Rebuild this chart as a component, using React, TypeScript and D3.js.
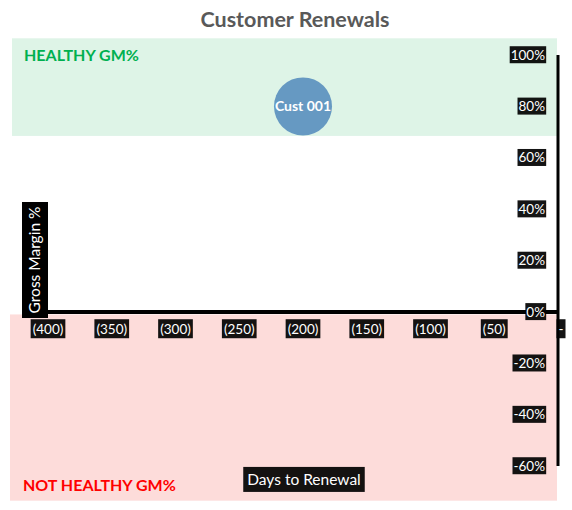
import React, { useRef, useEffect } from "react";
import * as d3 from "d3";

// Bubble data
const customers = ["Cust 001"];
const daysToRenewal = [-200];
const grossMargin = [0.8];
const contractSize = [1];

// Axis ticks
const xTicks = [-400, -350, -300, -250, -200, -150, -100, -50, 0];
const yTicks = [1, 0.8, 0.6, 0.4, 0.2, 0, -0.2, -0.4, -0.6];

// Shaded zones (in gross-margin units)
const healthyZone = [0.685, 1.065];
const notHealthyZone = [-0.735, -0.01];

const App: React.FC = () => {
    const svgRef = useRef<SVGSVGElement | null>(null);

    useEffect(() => {
        if (!svgRef.current) return;
        const width = 572;
        const height = 510;
        const font = "Lato, 'Open Sans', sans-serif";

        const svg = d3.select(svgRef.current);
        svg.selectAll("*").remove();
        svg.attr("width", width).attr("height", height).attr("viewBox", `0 0 ${width} ${height}`)
            .style("font-family", font);

        const x = d3.scaleLinear().domain([-400, 0]).range([48, 558]);
        const y = d3.scaleLinear().domain([-0.6, 1]).range([466, 55]);
        const r = d3.scaleSqrt().domain([0, 1]).range([0, 29]);
        const pct = (d: number) => `${Math.round(d * 100)}%`;

        // background zones
        svg.append("rect")
            .attr("x", 12).attr("width", 545)
            .attr("y", y(healthyZone[1])).attr("height", y(healthyZone[0]) - y(healthyZone[1]))
            .attr("fill", "#def4e7");
        svg.append("rect")
            .attr("x", 10).attr("width", 547)
            .attr("y", y(notHealthyZone[1])).attr("height", y(notHealthyZone[0]) - y(notHealthyZone[1]))
            .attr("fill", "#fddcda");

        // title
        svg.append("text")
            .attr("x", 295).attr("y", 27)
            .attr("text-anchor", "middle")
            .attr("font-size", 21.5).attr("font-weight", "bold")
            .attr("fill", "#595959")
            .text("Customer Renewals");

        // zone labels
        svg.append("text")
            .attr("x", 24).attr("y", 61)
            .attr("font-size", 16).attr("font-weight", "bold")
            .attr("fill", "#00b050")
            .text("HEALTHY GM%");
        svg.append("text")
            .attr("x", 23).attr("y", 491)
            .attr("font-size", 16).attr("font-weight", "bold")
            .attr("fill", "#ff0000")
            .text("NOT HEALTHY GM%");

        // zero line and right axis
        svg.append("line")
            .attr("x1", 22).attr("x2", x(0))
            .attr("y1", y(0)).attr("y2", y(0))
            .attr("stroke", "#000").attr("stroke-width", 4);
        svg.append("line")
            .attr("x1", x(0)).attr("x2", x(0))
            .attr("y1", y(1)).attr("y2", y(-0.6))
            .attr("stroke", "#000").attr("stroke-width", 3);

        // helper: text with a dark box behind it
        const boxedText = (g: any, pad: number, h: number) => {
            g.each(function (this: SVGGElement) {
                const sel = d3.select(this);
                const t = sel.select<SVGTextElement>("text");
                const bb = t.node()!.getBBox();
                sel.insert("rect", "text")
                    .attr("x", bb.x - pad).attr("width", bb.width + pad * 2)
                    .attr("y", bb.y + bb.height / 2 - h / 2).attr("height", h)
                    .attr("fill", "#000").attr("fill-opacity", 0.92);
            });
        };

        // y tick labels
        const yLab = svg.append("g").selectAll("g")
            .data(yTicks)
            .join("g");
        yLab.append("text")
            .attr("x", 545).attr("y", d => y(d))
            .attr("dy", "0.35em")
            .attr("text-anchor", "end")
            .attr("font-size", 13.5)
            .attr("fill", "#fff")
            .text(pct);
        boxedText(yLab, 1, 17);

        // x tick labels
        const xLab = svg.append("g").selectAll("g")
            .data(xTicks)
            .join("g");
        xLab.append("text")
            .attr("x", d => d === 0 ? x(d) + 3 : x(d)).attr("y", 329)
            .attr("dy", "0.35em")
            .attr("text-anchor", "middle")
            .attr("font-size", 13.5)
            .attr("fill", "#fff")
            .text(d => d === 0 ? "-" : `(${-d})`);
        boxedText(xLab, 2, 19);

        // axis titles
        const yTitle = svg.append("g")
            .attr("transform", "translate(35,260) rotate(-90)");
        yTitle.append("text")
            .attr("text-anchor", "middle").attr("dy", "0.35em")
            .attr("font-size", 15.5).attr("fill", "#fff")
            .text("Gross Margin %");
        yTitle.insert("rect", "text")
            .attr("x", -58).attr("width", 116)
            .attr("y", -13).attr("height", 26)
            .attr("fill", "#000");

        const xTitle = svg.append("g");
        xTitle.append("text")
            .attr("x", 304).attr("y", 480)
            .attr("text-anchor", "middle").attr("dy", "0.35em")
            .attr("font-size", 15.5).attr("fill", "#fff")
            .text("Days to Renewal");
        boxedText(xTitle, 4, 25);

        // bubbles
        const node = svg.append("g").selectAll("g")
            .data(customers.map((c, i) => ({ name: c, days: daysToRenewal[i], gm: grossMargin[i], size: contractSize[i] })))
            .join("g")
            .attr("transform", d => `translate(${x(d.days)},${y(d.gm)})`);
        node.append("circle")
            .attr("r", d => r(d.size))
            .attr("fill", "#6699c2");
        node.append("text")
            .attr("text-anchor", "middle").attr("dy", "0.35em")
            .attr("font-size", 14).attr("font-weight", "bold")
            .attr("fill", "#fff")
            .text(d => d.name);
    }, []);

    return <svg ref={svgRef} style={{ position: "absolute", left: 0, top: 0 }} />;
};

export default App;
